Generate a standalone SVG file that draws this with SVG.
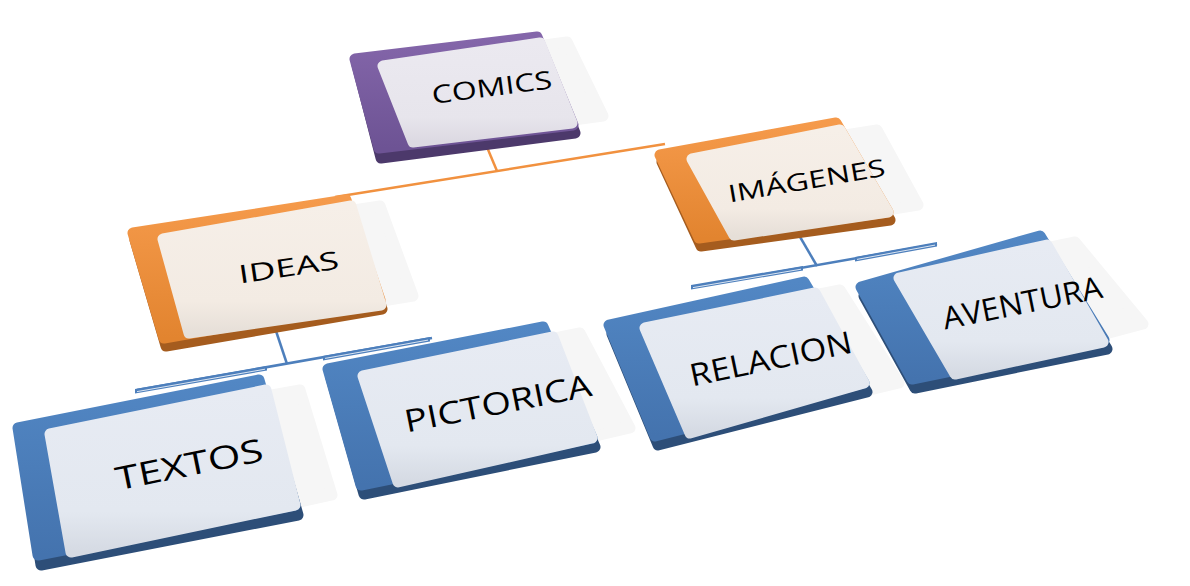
<svg xmlns="http://www.w3.org/2000/svg" width="1190" height="586" viewBox="0 0 1190 586">
<defs>
<linearGradient id="gp" x1="0" y1="0" x2="0" y2="1"><stop offset="0" stop-color="#ebe9f0"/><stop offset="0.75" stop-color="#e7e5ec"/><stop offset="1" stop-color="#dcd9e2"/></linearGradient>
<linearGradient id="go" x1="0" y1="0" x2="0" y2="1"><stop offset="0" stop-color="#f6efe8"/><stop offset="0.75" stop-color="#f3ebe3"/><stop offset="1" stop-color="#e6dfd8"/></linearGradient>
<linearGradient id="gb" x1="0" y1="0" x2="0" y2="1"><stop offset="0" stop-color="#e7ebf3"/><stop offset="0.75" stop-color="#e3e8f0"/><stop offset="1" stop-color="#d5dae3"/></linearGradient>
<linearGradient id="bp" x1="0" y1="0" x2="0" y2="1"><stop offset="0" stop-color="#8466aa"/><stop offset="1" stop-color="#6d5394"/></linearGradient>
<linearGradient id="bo" x1="0" y1="0" x2="0" y2="1"><stop offset="0" stop-color="#f59a4b"/><stop offset="1" stop-color="#e2842f"/></linearGradient>
<linearGradient id="bb" x1="0" y1="0" x2="0" y2="1"><stop offset="0" stop-color="#5287c4"/><stop offset="1" stop-color="#4473ae"/></linearGradient>
</defs>
<style>
.s{stroke-width:11;stroke-linejoin:round}
.fa{fill:#f6f6f6;stroke:#f6f6f6}
.pu{fill:url(#bp);stroke:url(#bp)}
.pud{fill:#4c396b;stroke:#4c396b}
.pup{fill:url(#gp);stroke:url(#gp)}
.or{fill:url(#bo);stroke:url(#bo)}
.ord{fill:#a55c1e;stroke:#a55c1e}
.orp{fill:url(#go);stroke:url(#go)}
.bl{fill:url(#bb);stroke:url(#bb)}
.bld{fill:#2d4e78;stroke:#2d4e78}
.blp{fill:url(#gb);stroke:url(#gb)}
.t{font-family:"Open Sans","Noto Sans","DejaVu Sans",sans-serif;fill:#000;text-anchor:middle}
.co{fill:none;stroke:#f1913f;stroke-width:2.5}
.cb{fill:none;stroke:#4d7fbc;stroke-width:2.5}
.lg{fill:#4d7fbc;stroke:none}
.lw{fill:none;stroke:#ffffff;stroke-width:0.8}
</style>

<g id="connectors">
<path class="co" d="M484,140 L497,171"/>
<path class="co" d="M335,197 L665,144"/>
<path class="cb" d="M274,325 L287,364"/>
<path class="cb" d="M137,390 L432,338"/>
<polygon class="lg" points="135,389 267,366 267,370.5 135,393.5"/>
<line class="lw" x1="137" y1="391.6" x2="265" y2="369.2"/>
<polygon class="lg" points="323,356 430,337 430,341.5 323,360.5"/>
<line class="lw" x1="325" y1="358.4" x2="428" y2="340.1"/>
<path class="cb" d="M796,230 L817,266"/>
<path class="cb" d="M693,287 L937,244"/>
<polygon class="lg" points="691,285 803,266 803,270.5 691,289.5"/>
<line class="lw" x1="693" y1="287.6" x2="801" y2="269.2"/>
<polygon class="lg" points="855,257 937,242 937,246.5 855,261.5"/>
<line class="lw" x1="857" y1="259.4" x2="935" y2="245.1"/>
</g>

<g id="node-comics">
<polygon class="s fa" points="383,66 567,42 603,116 413,142"/>
<polygon class="s pud" points="357,65 539,43 575,133 381,158"/>
<polygon class="s pu" points="355,59 537,37 573,125 379,148"/>
<polygon class="s pup" points="383,66 540,43 572,123 413,142"/>
<text class="t" font-size="25" textLength="121" lengthAdjust="spacingAndGlyphs" transform="translate(493,96) rotate(-7.5)">COMICS</text>
</g>

<g id="node-ideas">
<polygon class="s fa" points="163,239 380,206 413,296 189,333"/>
<polygon class="s ord" points="135,240 348,207 382,309 166,346"/>
<polygon class="s or" points="133,233 346,200 380,300 164,338"/>
<polygon class="s orp" points="163,239 351,206 381,305 189,333"/>
<text class="t" font-size="25" textLength="101" lengthAdjust="spacingAndGlyphs" transform="translate(290,276) rotate(-8.5)">IDEAS</text>
</g>

<g id="node-imagenes">
<polygon class="s fa" points="692,159 877,130 918,205 734,235"/>
<polygon class="s ord" points="662,162 838,130 890,220 701,246"/>
<polygon class="s or" points="660,155 836,123 888,212 699,238"/>
<polygon class="s orp" points="692,159 840,130 888,212 734,235"/>
<text class="t" font-size="24" textLength="159" lengthAdjust="spacingAndGlyphs" transform="translate(808,189) rotate(-9.8)">IMÁGENES</text>
</g>

<g id="node-textos">
<polygon class="s fa" points="50,434 300,390 332,495 71,552"/>
<polygon class="s bld" points="21,437 262,389 298,515 41,565"/>
<polygon class="s bl" points="18,428 259,380 295,505 38,555"/>
<polygon class="s blp" points="50,434 266,390 295,505 71,552"/>
<text class="t" font-size="32" textLength="150" lengthAdjust="spacingAndGlyphs" transform="translate(191.5,475.5) rotate(-11.5)">TEXTOS</text>
</g>

<g id="node-pictorica">
<polygon class="s fa" points="363,376 580,333 630,428 398,482"/>
<polygon class="s bld" points="331,378 546,336 595,447 364,494"/>
<polygon class="s bl" points="328,369 543,327 592,438 361,485"/>
<polygon class="s blp" points="363,376 553,337 592,438 398,482"/>
<text class="t" font-size="31" textLength="190" lengthAdjust="spacingAndGlyphs" transform="translate(500,414) rotate(-11.2)">PICTORICA</text>
</g>

<g id="node-relacion">
<polygon class="s fa" points="645,328 840,290 899,383 690,433"/>
<polygon class="s bld" points="612,334 807,291 867,392 658,445"/>
<polygon class="s bl" points="609,325 804,282 864,383 655,436"/>
<polygon class="s blp" points="645,328 815,293 864,383 690,433"/>
<text class="t" font-size="31" textLength="165" lengthAdjust="spacingAndGlyphs" transform="translate(773,369.5) rotate(-11.9)">RELACION</text>
</g>

<g id="node-aventura">
<polygon class="s fa" points="899,278 1075,242 1143,324 955,374"/>
<polygon class="s bld" points="864,296 1043,245 1107,349 915,388"/>
<polygon class="s bl" points="861,287 1040,236 1104,340 912,379"/>
<polygon class="s blp" points="899,278 1047,245 1103,342 955,374"/>
<text class="t" font-size="31" textLength="162" lengthAdjust="spacingAndGlyphs" transform="translate(1024.5,313.5) rotate(-11.4)">AVENTURA</text>
</g>
</svg>
